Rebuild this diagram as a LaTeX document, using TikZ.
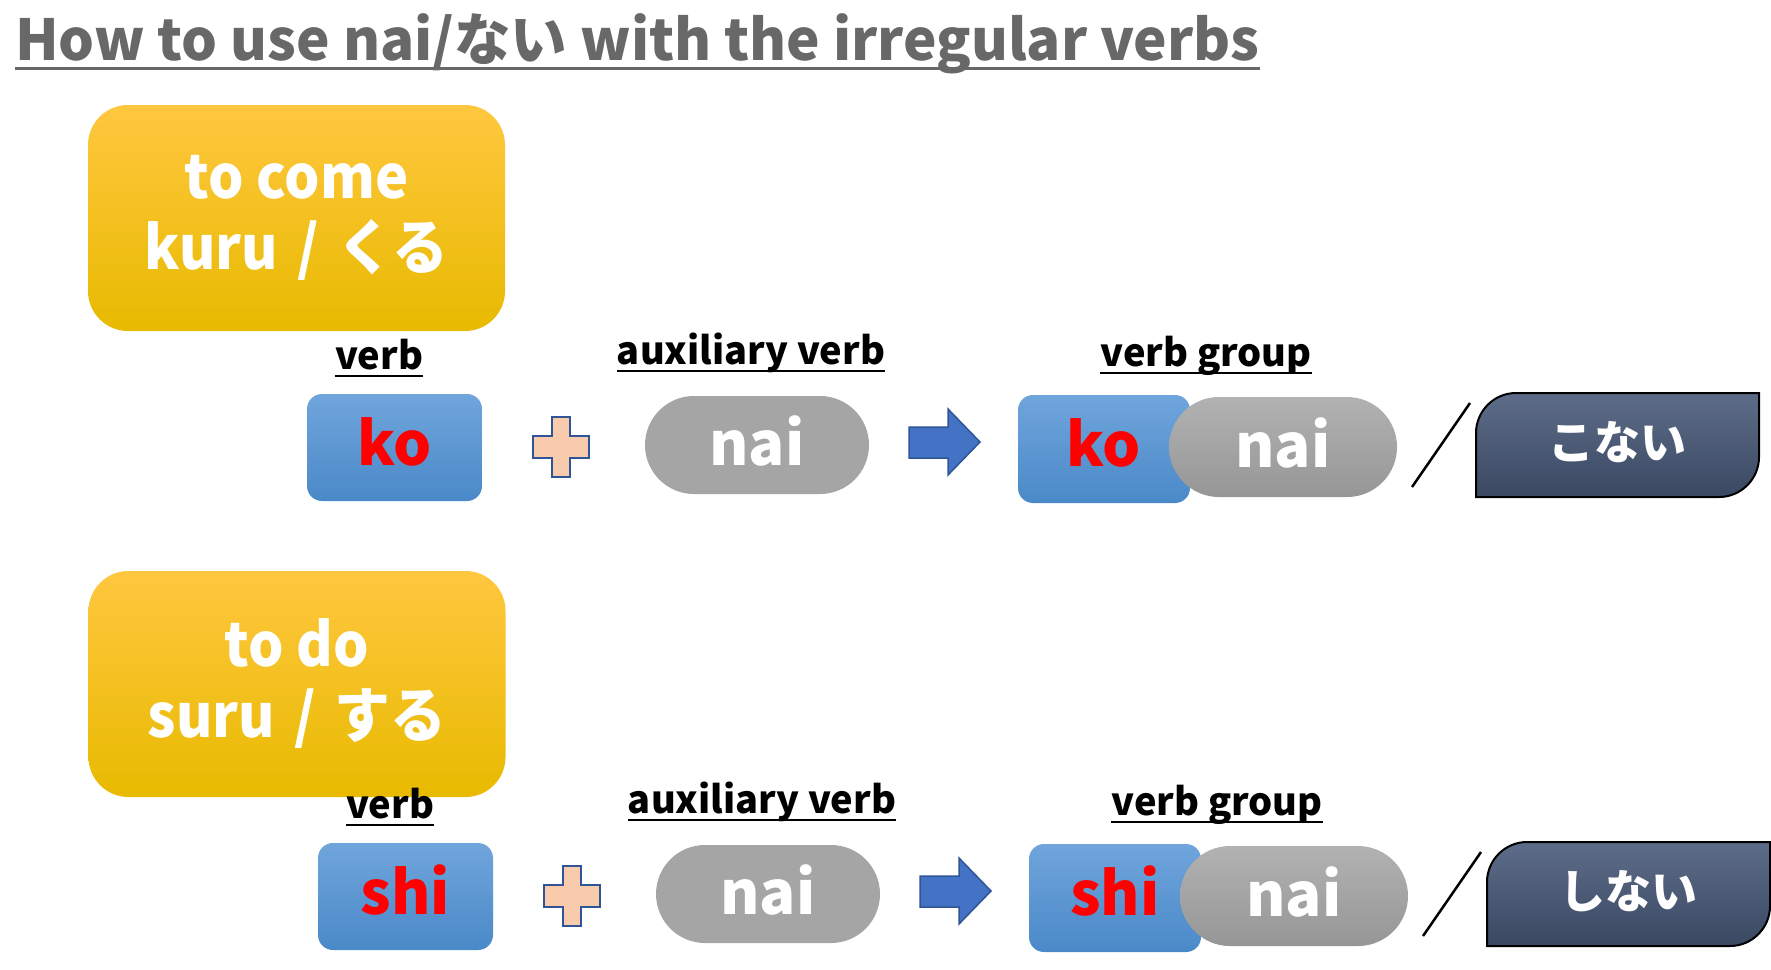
\documentclass[tikz,border=0pt]{standalone}
\usepackage{fontspec}
\setmainfont{Noto Sans CJK JP}
\newfontfamily\boxfont{Noto Sans CJK JP}[FakeStretch=0.93]
\usetikzlibrary{calc}
\definecolor{titlegray}{HTML}{686868}
\definecolor{orT}{HTML}{FFC73F}
\definecolor{orM}{HTML}{FDC300}
\definecolor{orB}{HTML}{E8BA00}
\definecolor{blT}{HTML}{70A5DC}
\definecolor{blM}{HTML}{5B9BD5}
\definecolor{blB}{HTML}{4A89C8}
\definecolor{pillgray}{HTML}{A5A5A5}
\definecolor{grT}{HTML}{B2B2B2}
\definecolor{grB}{HTML}{969696}
\definecolor{dkT}{HTML}{5D6C88}
\definecolor{dkB}{HTML}{3A4862}
\definecolor{plusfill}{HTML}{F8CBAD}
\definecolor{plusline}{HTML}{2F5597}
\definecolor{arrowfill}{HTML}{4472C4}
\begin{document}
\begin{tikzpicture}[x=1pt,y=-1pt,
  lbl/.style={font=\fontsize{38}{40}\selectfont\bfseries, inner sep=0pt, anchor=base},
  uline/.style={line width=2.5pt, black},
  obox/.style={rounded corners=40pt, minimum width=417pt, minimum height=226pt, inner sep=0pt,
    top color=orT, middle color=orM, bottom color=orB, text=white, align=center,
    font=\boxfont\fontsize{60}{71}\selectfont\bfseries},
  bbox/.style={rounded corners=15pt, inner sep=0pt, top color=blT, middle color=blM, bottom color=blB,
    text=red, text height=45pt, text depth=10pt, font=\fontsize{60}{66}\selectfont\bfseries},
  pillflat/.style={rounded corners=49pt, minimum width=224pt, minimum height=98pt, inner sep=0pt,
    fill=pillgray, text=white, text height=45pt, text depth=5pt, font=\fontsize{60}{66}\selectfont\bfseries},
  pillshade/.style={rounded corners=50pt, minimum width=228pt, minimum height=100pt, inner sep=0pt,
    top color=grT, bottom color=grB, text=white, text height=45pt, text depth=5pt,
    font=\fontsize{60}{66}\selectfont\bfseries},
  plusshape/.style={fill=plusfill, draw=plusline, line width=2pt},
  blockarrow/.style={fill=arrowfill, draw=plusline, line width=1.5pt},
  slashline/.style={line width=2.5pt, black},
  darkshape/.style={top color=dkT, bottom color=dkB, draw=black, line width=2pt},
  darktext/.style={text=white, inner sep=0pt, font=\fontsize{46}{50}\selectfont\bfseries}
]
\useasboundingbox (0,0) rectangle (1771,969);
\fill[white] (0,0) rectangle (1771,969);

% title
\node[font=\fontsize{56.5}{60}\selectfont\bfseries, text=titlegray, inner sep=0pt, anchor=base west]
  (title) at (15,60) {How to use nai/ない with the irregular verbs};
\draw[line width=3pt, titlegray] ([yshift=-8pt]title.base west) -- ([yshift=-8pt]title.base east);

% verb boxes
\node[obox] (come) at (296.5,218) {to come\\kuru\hspace{0.32em}/\hspace{0.32em}くる};
\node[obox] (do) at (297,684) {to do\\suru\hspace{0.32em}/\hspace{0.32em}する};

\foreach \r/\dx/\dy/\vb/\ng in {1/0/0/ko/こない,2/11/449/shi/しない}{
\begin{scope}[shift={(\dx,\dy)}]
  \node[lbl] (verb\r) at (379,369) {verb};
  \draw[uline] ([yshift=-7pt]verb\r.base west) -- ([yshift=-7pt]verb\r.base east);
  \node[bbox, minimum width=175pt, minimum height=107pt] (stem\r) at (394.5,447.5) {\vb};
  \draw[plusshape] (552,417) -- (570,417) -- (570,436) -- (589,436) -- (589,458) -- (570,458)
     -- (570,477) -- (552,477) -- (552,458) -- (533,458) -- (533,436) -- (552,436) -- cycle;
  \node[lbl] (aux\r) at (751,364) {auxiliary verb};
  \draw[uline] ([yshift=-7pt]aux\r.base west) -- ([yshift=-7pt]aux\r.base east);
  \node[pillflat] (nai\r) at (757,445) {nai};
  \draw[blockarrow] (909,427) -- (948,427) -- (948,409) -- (980,442) -- (948,475) -- (948,458)
     -- (909,458) -- cycle;
  \node[lbl] (grp\r) at (1206,366) {verb group};
  \draw[uline] ([yshift=-7pt]grp\r.base west) -- ([yshift=-7pt]grp\r.base east);
  \node[bbox, minimum width=172pt, minimum height=108pt] (stemb\r) at (1104,449) {\vb};
  \node[pillshade] (naib\r) at (1283,447) {nai};
  \coordinate (sa\r) at (1412,487);
  \coordinate (sb\r) at (1470,403);
  \draw[slashline] (sa\r) -- (sb\r);
  \draw[darkshape] (1476,497) -- (1476,433) .. controls (1476,411) and (1494,393) .. (1516,393)
     -- (1759,393) -- (1759,457) .. controls (1759,479) and (1741,497) .. (1719,497) -- cycle;
  \node[darktext] (neg\r) at (1617.5,442) {\ng};
\end{scope}
}
\end{tikzpicture}
\end{document}
